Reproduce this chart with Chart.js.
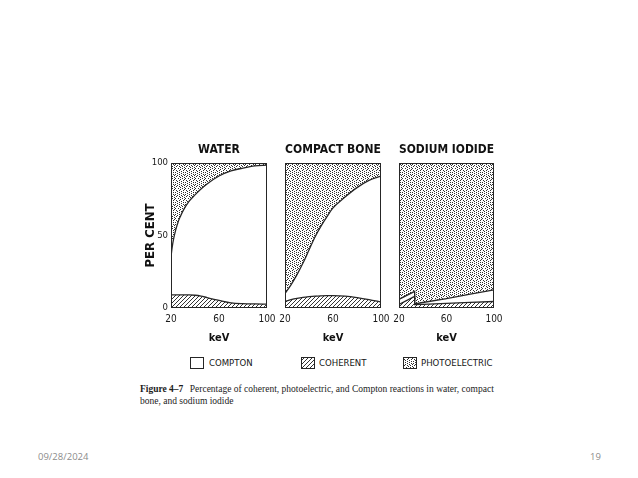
<!DOCTYPE html>
<html>
<head>
<meta charset="utf-8">
<script src="https://cdn.jsdelivr.net/npm/chart.js@4.4.1/dist/chart.umd.min.js"></script>
<style>
  html, body { margin: 0; padding: 0; background: #fff; }
  body { width: 638px; height: 478px; position: relative; overflow: hidden; }
  canvas.panel { position: absolute; top: 138px; }
  #water { left: 125px; }
  #bone { left: 278px; }
  #nai { left: 392px; }
  .sw { position: absolute; top: 357px; }
  .lt { position: absolute; top: 357px; line-height: 12px; font: 9.5px 'Liberation Sans Narrow', 'DejaVu Sans Condensed', 'Liberation Sans', sans-serif; color: #151515; }
  #caption { position: absolute; left: 140px; top: 384px; font: 9.5px 'Liberation Serif', serif; line-height: 11.5px; color: #1c1c1c; white-space: nowrap; }
  #caption b { margin-right: 4px; }
  .foot { position: absolute; top: 450px; font: 9.5px 'Open Sans', sans-serif; color: #8c8c8c; }
</style>
</head>
<body>
<canvas id="water" class="panel" width="153" height="210"></canvas>
<canvas id="bone" class="panel" width="114" height="210"></canvas>
<canvas id="nai" class="panel" width="113" height="210"></canvas>

<canvas id="sw-compton" class="sw" width="14" height="12" style="left:190px"></canvas>
<div class="lt" style="left:209px">COMPTON</div>
<canvas id="sw-coherent" class="sw" width="14" height="12" style="left:301px"></canvas>
<div class="lt" style="left:319px">COHERENT</div>
<canvas id="sw-photo" class="sw" width="14" height="12" style="left:403px"></canvas>
<div class="lt" style="left:421px">PHOTOELECTRIC</div>

<div id="caption"><b>Figure 4–7</b> Percentage of coherent, photoelectric, and Compton reactions in water, compact<br>bone, and sodium iodide</div>

<div class="foot" style="left:38px">09/28/2024</div>
<div class="foot" style="left:590px">19</div>

<script>
// tick labels
const xTicks = [20, 60, 100];
const yTicks = [0, 50, 100];

// per cent of each interaction (photoelectric = the rest)
const waterKeV = [20, 21, 22, 24, 26, 28, 30, 35, 40, 45, 50, 60, 70, 80, 90, 100];
const waterCoherent = [9, 9, 9, 9, 9, 9, 9, 9, 8.8, 8.2, 7.2, 5.3, 3.6, 3, 2.8, 2.7];
const waterCompton = [26.5, 33, 38, 45, 50.5, 54.5, 58, 64.5, 69.2, 73.8, 78.3, 85.7, 90.9, 93.5, 95.2, 95.8];

const boneKeV = [20, 25, 30, 35, 40, 45, 50, 55, 60, 70, 80, 90, 100];
const boneCoherent = [4.6, 5.7, 6.6, 7.3, 7.8, 8.2, 8.4, 8.5, 8.5, 8.2, 7.2, 5.8, 4.1];
const boneCompton = [5.4, 10.3, 16.4, 23.7, 32.2, 40.8, 48.1, 54.5, 60.5, 68.3, 75.8, 82.2, 86.9];

// iodine K edge at 33.2 keV
const naiKeV = [20, 33.2, 33.2, 40, 60, 80, 100];
const naiCoherent = [2.5, 8, 2.3, 2.5, 3.2, 3.9, 4.5];
const naiCompton = [3.5, 3.5, 0.5, 1.3, 3.3, 5.6, 8];

const NARROW = "'Liberation Sans Narrow', 'DejaVu Sans Condensed', 'Liberation Sans', sans-serif";
const INK = '#262626';

function makeTile(size, dots, color) {
    const c = document.createElement('canvas');
    c.width = size; c.height = size;
    const g = c.getContext('2d');
    g.fillStyle = '#fff';
    g.fillRect(0, 0, size, size);
    g.fillStyle = color;
    dots.forEach(d => g.fillRect(d[0], d[1], 1, 1));
    return c;
}

const hatchTile = makeTile(4, [[3, 0], [2, 1], [1, 2], [0, 3]], '#333');
// hand-placed stipple so it doesn't read as a grid
const stippleTile = makeTile(10, [
    [0, 0], [3, 0], [7, 0],
    [5, 1], [9, 1],
    [1, 2], [4, 2], [8, 2],
    [2, 3], [6, 3],
    [0, 4], [4, 4], [8, 4],
    [2, 5], [6, 5],
    [0, 6], [4, 6], [8, 6],
    [2, 7], [6, 7], [9, 7],
    [1, 8], [4, 8], [7, 8],
    [5, 9], [9, 9]
], '#2e2e2e');

function pattern(ctx, tile) {
    return ctx.createPattern(tile, 'repeat');
}

const framePlugin = {
    id: 'frame',
    afterDatasetsDraw(chart) {
        const { ctx, chartArea: a } = chart;
        ctx.save();
        ctx.strokeStyle = INK;
        ctx.lineWidth = 1;
        ctx.strokeRect(Math.round(a.left) + 0.5, Math.round(a.top) + 0.5,
            Math.round(a.width) - 1, Math.round(a.height) - 1);
        ctx.restore();
    }
};

function makePanel(id, title, kev, coherent, compton, opts) {
    const canvas = document.getElementById(id);
    const ctx = canvas.getContext('2d');
    const cohLine = kev.map((x, i) => ({ x, y: coherent[i] }));
    const compLine = kev.map((x, i) => ({ x, y: coherent[i] + compton[i] }));
    const photoLine = kev.map((x, i) => ({ x, y: coherent[i] + compton[i] + (100 - coherent[i] - compton[i]) }));

    const lineOpts = opts.smooth
        ? { cubicInterpolationMode: 'monotone' }
        : { tension: 0 };

    return new Chart(ctx, {
        type: 'line',
        data: {
            datasets: [
                { label: 'COHERENT', data: cohLine, fill: 'origin', backgroundColor: pattern(ctx, hatchTile),
                  borderColor: INK, borderWidth: 1.3, pointRadius: 0, ...lineOpts },
                { label: 'COMPTON', data: compLine, fill: '-1', backgroundColor: '#fff',
                  borderColor: INK, borderWidth: 1.3, pointRadius: 0, ...lineOpts },
                { label: 'PHOTOELECTRIC', data: photoLine, fill: '-1', backgroundColor: pattern(ctx, stippleTile),
                  borderColor: 'transparent', borderWidth: 0, pointRadius: 0, ...lineOpts }
            ]
        },
        options: {
            responsive: false,
            animation: false,
            events: [],
            layout: { padding: { left: opts.padLeft, right: 11, top: 0, bottom: 0 } },
            plugins: {
                legend: { display: false },
                tooltip: { enabled: false },
                title: {
                    display: true,
                    text: title,
                    fullSize: false,
                    color: '#111',
                    font: { family: NARROW, size: 12, weight: 'bold' },
                    padding: { top: 4.3, bottom: 6.3 }
                }
            },
            scales: {
                x: {
                    type: 'linear',
                    min: 20,
                    max: 100,
                    grid: { display: false, drawTicks: false },
                    border: { display: false },
                    afterBuildTicks: s => { s.ticks = xTicks.map(v => ({ value: v })); },
                    ticks: { color: '#1a1a1a', font: { family: NARROW, size: 10 }, padding: 5, maxRotation: 0, autoSkip: false },
                    title: { display: true, text: 'keV', color: '#111',
                        font: { family: NARROW, size: 11, weight: 'bold' }, padding: { top: 0, bottom: 3.4 } },
                    afterFit: s => { s.height = 40; s.paddingLeft = 0; s.paddingRight = 0; }
                },
                y: {
                    display: opts.yAxis,
                    min: 0,
                    max: 100,
                    grid: { display: false, drawTicks: false },
                    border: { display: false },
                    afterBuildTicks: s => { s.ticks = yTicks.map(v => ({ value: v })); },
                    ticks: { color: '#1a1a1a', font: { family: NARROW, size: 9.5 }, padding: 3 },
                    title: { display: true, text: 'PER CENT', color: '#111',
                        font: { family: NARROW, size: 13, weight: 'bold' }, padding: { top: 18, bottom: 0 } },
                    afterFit: s => { s.width = opts.yAxis ? 46 : 0; s.paddingTop = 0; s.paddingBottom = 0; }
                }
            }
        },
        plugins: [framePlugin]
    });
}

makePanel('water', 'WATER', waterKeV, waterCoherent, waterCompton, { smooth: true, yAxis: true, padLeft: 0 });
makePanel('bone', 'COMPACT BONE', boneKeV, boneCoherent, boneCompton, { smooth: true, yAxis: false, padLeft: 7 });
makePanel('nai', 'SODIUM IODIDE', naiKeV, naiCoherent, naiCompton, { smooth: false, yAxis: false, padLeft: 7 });

// legend swatches use the same fills as the panels
[['sw-compton', null], ['sw-coherent', hatchTile], ['sw-photo', stippleTile]].forEach(([id, tile]) => {
    const c = document.getElementById(id);
    const g = c.getContext('2d');
    g.fillStyle = tile ? g.createPattern(tile, 'repeat') : '#fff';
    g.fillRect(0, 0, c.width, c.height);
    g.strokeStyle = INK;
    g.lineWidth = 1;
    g.strokeRect(0.5, 0.5, c.width - 1, c.height - 1);
});
</script>
</body>
</html>
